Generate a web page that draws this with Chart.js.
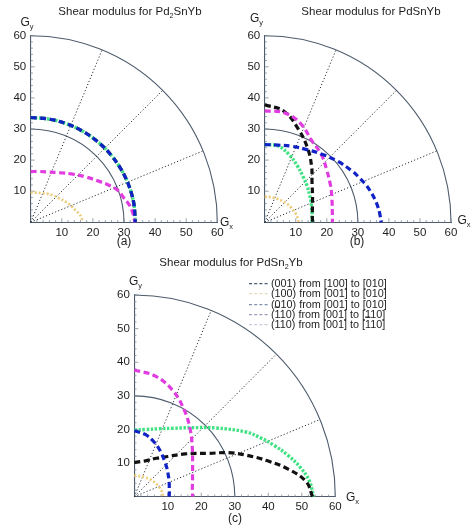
<!DOCTYPE html>
<html>
<head>
<meta charset="utf-8">
<script src="https://cdn.jsdelivr.net/npm/chart.js@4.4.1/dist/chart.umd.min.js"></script>
<style>
  html, body { margin: 0; padding: 0; background: #fff; }
  #page { position: relative; width: 474px; height: 527px; overflow: hidden;
          font-family: "Liberation Sans", Arial, sans-serif; color: #1e1e1e; }
  canvas { position: absolute; }
  .t { position: absolute; white-space: nowrap; line-height: 1; }
  .c { transform: translate(-50%, -50%); }
  .l { transform: translate(0, -50%); }
  .sub { font-size: 0.62em; position: relative; top: 0.38em; }
  .ob { text-decoration: overline; }
  .title { font-size: 11.5px; }
  .g { font-size: 12px; }
  .cap { font-size: 12px; }
  .lg { font-size: 10.8px; }
</style>
</head>
<body>
<div id="page">
  <canvas id="chartA" width="237" height="250" style="left:0;top:0"></canvas>
  <canvas id="chartB" width="237" height="250" style="left:237px;top:0"></canvas>
  <canvas id="chartC" width="474" height="277" style="left:0;top:250px"></canvas>

  <div class="t c title" style="left:130px;top:12px">Shear modulus for Pd<span class="sub">2</span>SnYb</div>
  <div class="t c title" style="left:371px;top:12px">Shear modulus for PdSnYb</div>
  <div class="t c title" style="left:231px;top:263px">Shear modulus for PdSn<span class="sub">2</span>Yb</div>

  <div class="t l g" style="left:20.5px;top:22px">G<span class="sub">y</span></div>
  <div class="t l g" style="left:220px;top:222px">G<span class="sub">x</span></div>
  <div class="t l g" style="left:250px;top:18px">G<span class="sub">y</span></div>
  <div class="t l g" style="left:457.5px;top:220px">G<span class="sub">x</span></div>
  <div class="t l g" style="left:129px;top:281px">G<span class="sub">y</span></div>
  <div class="t l g" style="left:346px;top:497px">G<span class="sub">x</span></div>

  <div class="t c cap" style="left:124px;top:241px">(a)</div>
  <div class="t c cap" style="left:357px;top:241px">(b)</div>
  <div class="t c cap" style="left:235px;top:517.5px">(c)</div>

  <div id="legend"></div>
</div>

<script>
// polar angle of every sample, degrees (from Gy axis down to Gx axis)
const angles = [90, 80, 70, 60, 50, 40, 30, 25, 20, 15, 10, 5, 0];

// axis ticks and polar grid
const tickValues = [0, 10, 20, 30, 40, 50, 60];
const gridRadii = [30, 60];
const spokeAngles = [22.5, 45, 67.5];

// (a) Pd2SnYb
const aBlack   = [33.7, 33.7, 33.7, 33.7, 33.7, 33.7, 33.7, 33.7, 33.7, 33.7, 33.7, 33.6, 33.6];
const aGreen   = [33.7, 33.7, 33.7, 33.7, 33.7, 33.7, 33.7, 33.7, 33.7, 33.7, 33.7, 33.6, 33.6];
const aBlue    = [33.7, 33.7, 33.7, 33.7, 33.7, 33.7, 33.7, 33.7, 33.7, 33.7, 33.7, 33.6, 33.6];
const aMagenta = [16.3, 16.6, 17.2, 18.4, 20.3, 22.8, 26.0, 28.0, 29.9, 30.9, 32.2, 33.0, 33.5];
const aYellow  = [9.6, 9.7, 10.0, 10.6, 11.3, 12.0, 13.1, 13.7, 14.3, 14.9, 15.8, 16.4, 16.7];

// (b) PdSnYb
const bBlack   = [37.8, 36.2, 31.8, 27.6, 23.5, 19.9, 17.8, 17.0, 16.4, 15.9, 15.6, 15.4, 15.4];
const bMagenta = [35.8, 35.8, 33.8, 30.3, 28.4, 26.1, 24.4, 23.7, 23.0, 22.5, 22.1, 21.9, 21.8];
const bBlue    = [25.0, 25.2, 26.0, 27.0, 28.6, 30.6, 32.7, 33.7, 34.8, 35.7, 36.5, 37.1, 37.5];
const bGreen   = [25.0, 24.9, 23.1, 21.0, 19.2, 17.9, 16.8, 16.4, 16.0, 15.7, 15.5, 15.3, 15.3];
const bYellow  = [8.3, 8.3, 8.4, 8.6, 8.9, 9.3, 9.7, 9.9, 10.2, 10.4, 10.6, 10.8, 10.9];

// (c) PdSn2Yb
const cBlack   = [10.2, 10.6, 11.5, 13.2, 15.6, 19.8, 25.8, 31.0, 35.9, 41.2, 46.8, 51.5, 53.2];
const cMagenta = [37.7, 36.4, 33.6, 29.8, 26.0, 22.6, 20.1, 19.2, 18.5, 18.0, 17.6, 17.4, 17.4];
const cBlue    = [19.6, 18.8, 17.3, 15.6, 14.0, 12.8, 11.8, 11.4, 11.1, 10.8, 10.6, 10.5, 10.4];
const cGreen   = [19.8, 20.3, 21.5, 23.5, 26.8, 31.8, 38.5, 41.5, 44.5, 47.5, 50.3, 52.5, 53.5];
const cYellow  = [6.3, 6.3, 6.4, 6.6, 6.9, 7.2, 7.6, 7.8, 8.0, 8.2, 8.4, 8.5, 8.6];

// legend of panel (c)
const legendLabels = [
  '(001) from [100] to [010]',
  '(100) from [001] to [010]',
  '(010) from [001] to [010]',
  '(<span class="ob">1</span>10) from [001] to [110]',
  '(110) from [001] to [<span class="ob">1</span>10]'
];
const legendColors = ['#4b5a70', '#e4dabd', '#8090b0', '#a597bb', '#d2c8da'];

const FONT = '"Liberation Sans", Arial, sans-serif';
const AXIS = '#4d5b6b';

function toPoints(r) {
  return angles.map((a, i) => {
    const t = a * Math.PI / 180;
    return { x: r[i] * Math.cos(t), y: r[i] * Math.sin(t) };
  });
}

// styles for the five curve kinds
const styles = {
  blue:    { color: '#1022c6', width: 3.2, dash: [6, 3.5] },
  magenta: { color: '#e03ce0', width: 3.2, dash: [6, 3.5] },
  black:   { color: '#111111', width: 3.2, dash: [6, 3.5] },
  green:   { color: '#3fe282', width: 3.4, dash: [2.5, 1.6] },
  yellow:  { color: '#eccb78', width: 2.6, dash: [2, 2] }
};

function ds(kind, r) {
  const s = styles[kind];
  return {
    data: toPoints(r),
    showLine: true,
    borderColor: s.color,
    borderWidth: s.width,
    borderDash: s.dash,
    borderCapStyle: 'butt',
    pointRadius: 0,
    tension: 0.4,
    fill: false,
    clip: false
  };
}

// quarter circles, dotted spokes and inward Mathematica-style ticks
const polarGrid = {
  id: 'polarGrid',
  beforeDatasetsDraw(chart) {
    const { ctx, scales: { x, y } } = chart;
    const x0 = x.getPixelForValue(0), y0 = y.getPixelForValue(0);
    ctx.save();
    ctx.strokeStyle = AXIS;
    ctx.lineWidth = 1.1;
    for (const r of gridRadii) {
      const rx = x.getPixelForValue(r) - x0;
      const ry = y0 - y.getPixelForValue(r);
      ctx.beginPath();
      ctx.ellipse(x0, y0, rx, ry, 0, -Math.PI / 2, 0);
      ctx.stroke();
    }
    ctx.setLineDash([1.2, 2.1]);
    ctx.strokeStyle = '#27313d';
    ctx.lineWidth = 1;
    for (const a of spokeAngles) {
      const t = a * Math.PI / 180;
      const R = gridRadii[gridRadii.length - 1];
      ctx.beginPath();
      ctx.moveTo(x0, y0);
      ctx.lineTo(x.getPixelForValue(R * Math.cos(t)), y.getPixelForValue(R * Math.sin(t)));
      ctx.stroke();
    }
    ctx.setLineDash([]);
    ctx.strokeStyle = '#7d8a98';
    ctx.lineWidth = 0.8;
    for (let v = 2; v <= 60; v += 2) {
      const len = v % 10 === 0 ? 4 : 2.2;
      const px = x.getPixelForValue(v), py = y.getPixelForValue(v);
      ctx.beginPath();
      ctx.moveTo(px, y0); ctx.lineTo(px, y0 - len);
      ctx.moveTo(x0, py); ctx.lineTo(x0 + len, py);
      ctx.stroke();
    }
    ctx.restore();
  }
};

function axis(pos, fit) {
  return {
    type: 'linear',
    position: pos,
    min: 0,
    max: 60,
    afterBuildTicks: s => { s.ticks = tickValues.map(v => ({ value: v })); },
    afterFit: s => { if (pos === 'left') s.width = fit; else s.height = fit; },
    border: { display: true, color: AXIS, width: 1.1 },
    grid: { display: false, drawTicks: false, tickLength: 0 },
    ticks: {
      autoSkip: false,
      maxRotation: 0,
      minRotation: 0,
      padding: pos === 'left' ? 4.5 : 3.5,
      color: '#1e1e1e',
      font: { family: FONT, size: 11.5 },
      callback: v => (v === 0 ? '' : String(v))
    }
  };
}

// area = chart area inside its canvas (left, top, right, bottom)
function makePanel(id, area, yWidth, datasets) {
  const cv = document.getElementById(id);
  const xHeight = 20;
  return new Chart(cv, {
    type: 'scatter',
    data: { datasets },
    options: {
      responsive: false,
      animation: false,
      events: [],
      layout: {
        padding: {
          left: area.left - yWidth,
          top: area.top,
          right: cv.width - area.right,
          bottom: cv.height - area.bottom - xHeight
        }
      },
      plugins: { legend: { display: false }, tooltip: { enabled: false } },
      scales: { x: axis('bottom', xHeight), y: axis('left', yWidth) }
    },
    plugins: [polarGrid]
  });
}

makePanel('chartA', { left: 30.7, top: 35.7, right: 217.3, bottom: 222.3 }, 30, [
  ds('blue', aBlue), ds('magenta', aMagenta), ds('green', aGreen), ds('black', aBlack), ds('yellow', aYellow)
]);

makePanel('chartB', { left: 27.7, top: 35.7, right: 214, bottom: 222.3 }, 27, [
  ds('blue', bBlue), ds('magenta', bMagenta), ds('black', bBlack), ds('green', bGreen), ds('yellow', bYellow)
]);

makePanel('chartC', { left: 134.3, top: 45, right: 335.3, bottom: 246.7 }, 30, [
  ds('magenta', cMagenta), ds('blue', cBlue), ds('black', cBlack), ds('green', cGreen), ds('yellow', cYellow)
]);

// legend rows
const legend = document.getElementById('legend');
legendLabels.forEach((lab, i) => {
  const cy = 283 + i * 10.3;
  const row = document.createElement('div');
  row.className = 't l lg';
  row.style.left = '249px';
  row.style.top = cy + 'px';
  row.innerHTML =
    '<svg width="19" height="4" style="vertical-align:middle;margin-right:3px">' +
    '<line x1="0" y1="2" x2="19" y2="2" stroke="' + legendColors[i] +
    '" stroke-width="1.2" stroke-dasharray="3,2.2"/></svg>' + lab;
  legend.appendChild(row);
});
</script>
</body>
</html>
